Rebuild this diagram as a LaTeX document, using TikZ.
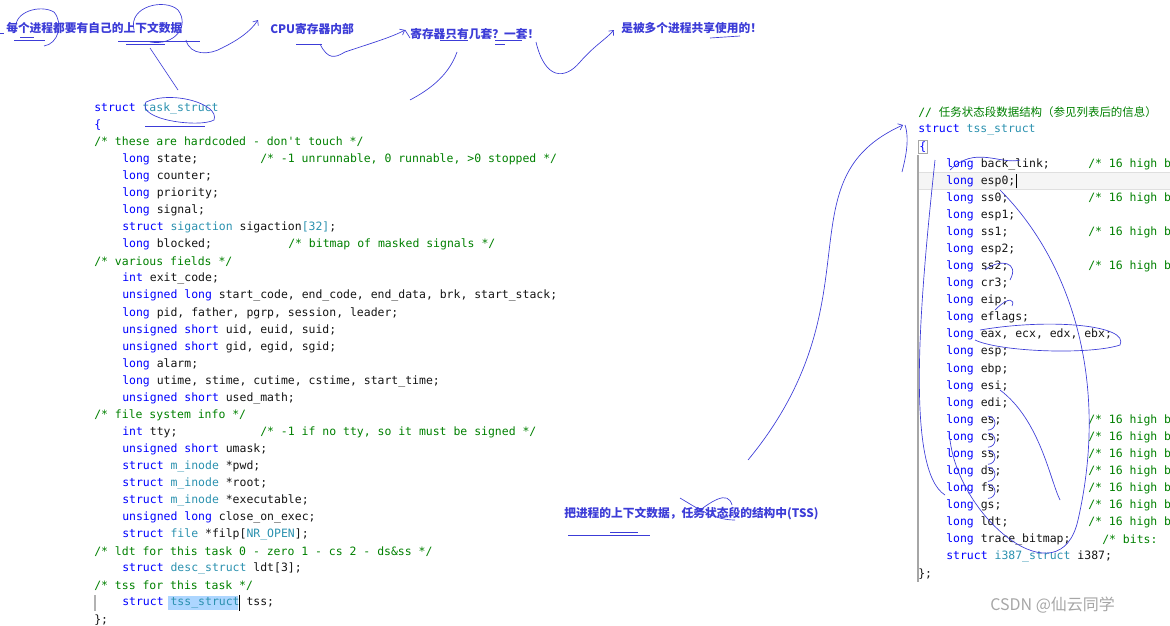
\documentclass[tikz,border=0pt]{standalone}
\usepackage{fontspec}
\setmonofont{DejaVu Sans Mono}
\newfontfamily\cjk{Noto Sans CJK SC}
\usetikzlibrary{arrows.meta}
\definecolor{kw}{RGB}{0,0,255}
\definecolor{ty}{RGB}{43,145,175}
\definecolor{cm}{RGB}{0,128,0}
\definecolor{pl}{RGB}{20,20,20}
\definecolor{ann}{RGB}{60,60,215}
\definecolor{hl}{RGB}{173,214,255}
\newcommand{\K}[1]{\textcolor{kw}{#1}}
\newcommand{\T}[1]{\textcolor{ty}{#1}}
\newcommand{\C}[1]{\textcolor{cm}{#1}}
\tikzset{
 code/.style={anchor=west,inner sep=0pt,font=\ttfamily\fontsize{8.6}{10}\selectfont,text=pl},
 note/.style={anchor=west,inner sep=0pt,font=\cjk\bfseries\fontsize{8.8}{10}\selectfont,text=ann},
 pen/.style={draw=ann,line width=0.5pt},
 penarr/.style={pen,-{Straight Barb[length=3pt,width=5pt]}}
}
\newcommand{\Ly}[1]{108+17.07*#1}
\begin{document}
\begin{tikzpicture}[x=0.75pt,y=-0.75pt]
\useasboundingbox (0,0) rectangle (1170,625);
% left code
\foreach \i/\x/\t in {
0/94/{\K{struct} \T{task\_struct}},
1/94/{\K{\{}},
2/94/{\C{/* these are hardcoded - don't touch */}},
3/122/{\K{long} state;},
4/122/{\K{long} counter;},
5/122/{\K{long} priority;},
6/122/{\K{long} signal;},
7/122/{\K{struct} \T{sigaction} sigaction\T{[32]};},
8/122/{\K{long} blocked;},
9/94/{\C{/* various fields */}},
10/122/{\K{int} exit\_code;},
11/122/{\K{unsigned} \K{long} start\_code, end\_code, end\_data, brk, start\_stack;},
12/122/{\K{long} pid, father, pgrp, session, leader;},
13/122/{\K{unsigned} \K{short} uid, euid, suid;},
14/122/{\K{unsigned} \K{short} gid, egid, sgid;},
15/122/{\K{long} alarm;},
16/122/{\K{long} utime, stime, cutime, cstime, start\_time;},
17/122/{\K{unsigned} \K{short} used\_math;},
18/94/{\C{/* file system info */}},
19/122/{\K{int} tty;},
20/122/{\K{unsigned} \K{short} umask;},
21/122/{\K{struct} \T{m\_inode} *pwd;},
22/122/{\K{struct} \T{m\_inode} *root;},
23/122/{\K{struct} \T{m\_inode} *executable;},
24/122/{\K{unsigned} \K{long} close\_on\_exec;},
25/122/{\K{struct} \T{file} *filp[\T{NR\_OPEN}];},
26/94/{\C{/* ldt for this task 0 - zero 1 - cs 2 - ds\&ss */}},
27/122/{\K{struct} \T{desc\_struct} ldt[3];},
28/94/{\C{/* tss for this task */}},
30/94/{\};}}
 \node[code] (l\i) at (\x,{\Ly{\i}}) {\t};
\node[code] (c3) at (260,{\Ly{3}}) {\C{/* -1 unrunnable, 0 runnable, >0 stopped */}};
\node[code] (c8) at (288,{\Ly{8}}) {\C{/* bitmap of masked signals */}};
\node[code] (c19) at (260,{\Ly{19}}) {\C{/* -1 if no tty, so it must be signed */}};
\fill[hl] (168,{\Ly{29}-7}) rectangle (238,{\Ly{29}+7});
\node[code] (l29) at (122,{\Ly{29}}) {\K{struct} \T{tss\_struct} tss;};
\draw[gray!60,line width=1pt] (95,{\Ly{29}-8}) -- (95,{\Ly{29}+8});
\draw[black,line width=0.6pt] (239,{\Ly{29}-8}) -- (239,{\Ly{29}+8});
% right code
\begin{scope}
\clip (900,95) rectangle (1170,600);
\fill[gray!8] (918,{164+17.07-8.5}) rectangle (1170,{164+17.07+8.5});
\draw[gray!25] (918,{164+17.07-8.5}) -- (1170,{164+17.07-8.5}) (918,{164+17.07+8.5}) -- (1170,{164+17.07+8.5});
\node[code] (th) at (918,112) {\C{//~\cjk 任务状态段数据结构（参见列表后的信息）}};
\node[code] (ts) at (918,130) {\K{struct} \T{tss\_struct}};
\node[code,draw=gray!70,inner sep=0.8pt] (tb) at (918,147) {\K{\{}};
\draw[gray!70,line width=1.2pt] (918,155) -- (918,582);
\foreach \k/\t/\c in {
0/back\_link;/1, 1/esp0;/0, 2/ss0;/1, 3/esp1;/0, 4/ss1;/1, 5/esp2;/0, 6/ss2;/1, 7/cr3;/0,
8/eip;/0, 9/eflags;/0, 10/{eax, ecx, edx, ebx;}/0, 11/esp;/0, 12/ebp;/0, 13/esi;/0, 14/edi;/0,
15/es;/1, 16/cs;/1, 17/ss;/1, 18/ds;/1, 19/fs;/1, 20/gs;/1, 21/ldt;/1}{
 \node[code] (r\k) at (946,{164+17.07*\k}) {\K{long} \t};
 \ifnum\c=1 \node[code] (rc\k) at (1088,{164+17.07*\k}) {\C{/* 16 high bits}}; \fi
}
\node[code] (r22) at (946,{164+17.07*22}) {\K{long} trace\_bitmap;};
\node[code] (rc22) at (1102,{164+17.07*22}) {\C{/* bits: }};
\node[code] (r23) at (946,{164+17.07*23}) {\K{struct} \T{i387\_struct} i387;};
\node[code] (r24) at (918,{164+17.07*24}) {\};};
\end{scope}
\draw[black,line width=0.6pt] (1016,{164+17.07-7}) -- (1016,{164+17.07+7});
% notes
\node[note] (n1) at (6,28) {每个进程都要有自己的上下文数据};
\node[note] (n2) at (270,29) {CPU寄存器内部};
\node[note] (n3) at (410,34) {寄存器只有几套？一套！};
\node[note] (n4) at (621,28) {是被多个进程共享使用的！};
\node[note] (n5) at (564,514) {把进程的上下文数据，任务状态段的结构中(TSS)};
\node[anchor=west,inner sep=0pt,font=\cjk\fontsize{12}{14}\selectfont,text=gray!70] (wm) at (990,605) {CSDN @仙云同学};
% hand strokes
\draw[pen] (0,33) -- (4,33);
\draw[pen] (16,28) .. controls (14,12) and (40,4) .. (54,12) .. controls (64,24) and (58,44) .. (44,46);
\draw[pen] (14,40) -- (45,40) (20,37) -- (34,37);
\draw[pen] (134,30) .. controls (128,6) and (165,-2) .. (178,10) .. controls (190,26) and (175,46) .. (150,42);
\draw[pen] (118,41) -- (200,41) (126,44) -- (165,44);
\draw[pen] (186,40) .. controls (190,56) and (210,55) .. (222,48);
\draw[penarr] (222,48) .. controls (238,40) and (250,32) .. (258,20);
\draw[pen] (150,48) -- (178,90);
\draw[pen] (146,102) .. controls (136,120) and (200,128) .. (214,120) .. controls (220,104) and (172,90) .. (146,102);
\draw[pen] (145,126) -- (205,126);
\draw[pen] (296,44) -- (322,44);
\draw[pen] (320,44) .. controls (328,60) and (335,58) .. (345,52);
\draw[penarr] (345,52) .. controls (375,42) and (392,37) .. (405,30);
\draw[pen] (405,30) -- (410,38);
\draw[pen] (440,40) -- (468,40) (495,40) -- (522,40) (495,44) -- (505,44);
\draw[pen] (457,52) .. controls (448,78) and (425,92) .. (410,100);
\draw[pen] (536,42) .. controls (545,80) and (565,80) .. (580,62);
\draw[penarr] (580,62) .. controls (595,45) and (605,40) .. (614,30);
\draw[pen] (710,38) -- (740,36);
\draw[pen] (568,535) -- (650,535) (610,532) -- (638,532);
\draw[pen] (680,498) .. controls (700,510) and (715,520) .. (735,520);
\draw[pen] (690,518) .. controls (712,500) and (728,490) .. (732,505);
\draw[penarr] (748,460) .. controls (880,300) and (780,180) .. (903,125);
\draw[pen] (905,125) .. controls (910,140) and (905,160) .. (902,172);
\draw[pen] (950,170) .. controls (975,145) and (1000,165) .. (1020,160);
\draw[pen] (1000,190) .. controls (1070,260) and (1110,380) .. (1078,520) .. controls (1060,600) and (960,520) .. (950,440);
\draw[pen] (935,160) .. controls (920,300) and (905,470) .. (945,495);
\draw[pen] (985,270) .. controls (1000,258) and (1020,262) .. (1010,280);
\draw[pen] (995,310) .. controls (1010,295) and (1015,300) .. (1012,306);
\draw[pen] (980,330) .. controls (1050,318) and (1130,325) .. (1120,345) .. controls (1090,355) and (1000,352) .. (975,340);
\foreach \k in {16,17,18,19,20} \draw[pen] ({988},{164+17.07*\k-7}) arc (90:-90:{7});
\draw[pen] (1000,390) .. controls (1040,420) and (1050,480) .. (1060,500);
\end{tikzpicture}
\end{document}
